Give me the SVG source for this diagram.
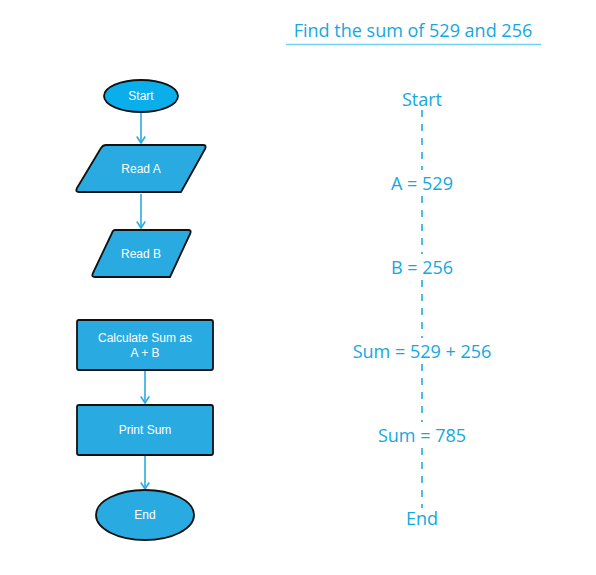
<svg xmlns="http://www.w3.org/2000/svg" width="596" height="575" viewBox="0 0 596 575">
<defs>
<marker id="ah" markerWidth="10" markerHeight="10" refX="8.5" refY="5" orient="auto" markerUnits="userSpaceOnUse">
<path d="M2,0.8 L8.5,5 L2,9.2" fill="none" stroke="#29abe2" stroke-width="1.6"/>
</marker>
<style>
.n{fill:#29abe2;stroke:#111;stroke-width:1.8;stroke-linejoin:round}
.t{font-family:"Liberation Sans",Arial,sans-serif;font-size:12px;fill:#fff;text-anchor:middle}
.c{stroke:#29abe2;stroke-width:1.6;fill:none}
.r{font-family:"Open Sans","Noto Sans",sans-serif;font-size:18px;fill:#13a8e0;text-anchor:middle}
.d{stroke:#13a8e0;stroke-width:1.5;stroke-dasharray:7,7}
</style>
</defs>
<rect width="596" height="575" fill="#fff"/>
<g id="title">
<text class="r" x="413" y="37">Find the sum of 529 and 256</text>
<line x1="286" y1="44.5" x2="541" y2="44.5" stroke="#6fd0f2" stroke-width="1.5"/>
</g>
<g id="trace">
<line class="d" x1="422" y1="110" x2="422" y2="170"/>
<line class="d" x1="422" y1="196" x2="422" y2="254"/>
<line class="d" x1="422" y1="280" x2="422" y2="338"/>
<line class="d" x1="422" y1="364" x2="422" y2="422"/>
<line class="d" x1="422" y1="448" x2="422" y2="508"/>
<text class="r" x="422" y="106">Start</text>
<text class="r" x="422" y="190">A = 529</text>
<text class="r" x="422" y="274">B = 256</text>
<text class="r" x="422" y="358">Sum = 529 + 256</text>
<text class="r" x="422" y="442">Sum = 785</text>
<text class="r" x="422" y="525">End</text>
</g>
<g id="connectors">
<line class="c" x1="141" y1="112" x2="141" y2="143" marker-end="url(#ah)"/>
<line class="c" x1="141" y1="194" x2="141" y2="228" marker-end="url(#ah)"/>
<line class="c" x1="145" y1="371" x2="145" y2="403" marker-end="url(#ah)"/>
<line class="c" x1="145" y1="456" x2="145" y2="489" marker-end="url(#ah)"/>
</g>
<g id="start">
<ellipse class="n" cx="141" cy="96" rx="37" ry="16" style="fill:#0aaeea"/>
<text class="t" x="141" y="100">Start</text>
</g>
<g id="readA">
<path class="n" d="M106,145 L203,145 Q207,145 205,149 L181,192 L79,192 Q75,192 77,188 L101,148 Q103,145 106,145 Z"/>
<text class="t" x="141" y="173">Read A</text>
</g>
<g id="readB">
<path class="n" d="M115,230 L188,230 Q192,230 190,234 L170,277 L95,277 Q91,277 93,273 L112,233 Q113,230 115,230 Z"/>
<text class="t" x="141" y="258">Read B</text>
</g>
<g id="calc">
<rect class="n" x="77" y="320" width="136" height="50" rx="2"/>
<text class="t" x="145" y="342">Calculate Sum as</text>
<text class="t" x="145" y="357">A + B</text>
</g>
<g id="print">
<rect class="n" x="77" y="405" width="136" height="50" rx="2"/>
<text class="t" x="145" y="434">Print Sum</text>
</g>
<g id="end">
<ellipse class="n" cx="145" cy="515" rx="49" ry="25"/>
<text class="t" x="145" y="519">End</text>
</g>
</svg>
